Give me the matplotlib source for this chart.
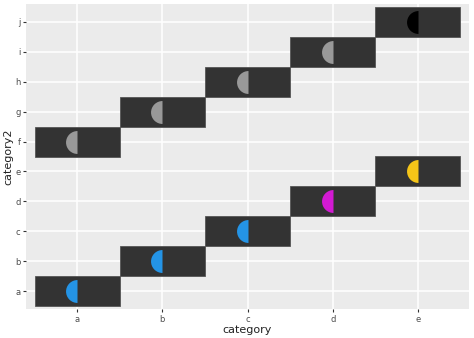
import matplotlib.pyplot as plt

xcats = ['a', 'b', 'c', 'd', 'e']
ycats = ['a', 'b', 'c', 'd', 'e', 'f', 'g', 'h', 'i', 'j']

# tile / point positions
px = ['a', 'b', 'c', 'd', 'e', 'a', 'b', 'c', 'd', 'e']
py = ['a', 'b', 'c', 'd', 'e', 'f', 'g', 'h', 'i', 'j']
pcol = ['#2494e6', '#2494e6', '#2494e6', '#d21ad2', '#f5c518',
        '#999999', '#999999', '#999999', '#999999', '#000000']

fig = plt.figure(figsize=(4.74, 3.38), dpi=100)
ax = fig.add_axes([26 / 474, 29 / 338, 443 / 474, 305 / 338])
ax.set_facecolor('#ebebeb')

xi = [xcats.index(v) for v in px]
yi = [ycats.index(v) for v in py]

for x, y, c in zip(xi, yi, pcol):
    ax.add_patch(plt.Rectangle((x - 0.5, y - 0.5), 1, 1, facecolor='#333333',
                               edgecolor='#555555', linewidth=0.6, zorder=2))
    ax.plot(x, y, marker='o', markersize=16.5, fillstyle='left',
            markerfacecolor=c, markerfacecoloralt='none',
            markeredgewidth=0, zorder=3)

ax.set_xlim(-0.6, len(xcats) - 0.4)
ax.set_ylim(-0.6, len(ycats) - 0.4)
ax.set_xticks(range(len(xcats)))
ax.set_xticklabels(xcats)
ax.set_yticks(range(len(ycats)))
ax.set_yticklabels(ycats)
ax.grid(True, color='white', linewidth=1.1, zorder=1)
ax.set_axisbelow(True)
for s in ax.spines.values():
    s.set_visible(False)
ax.tick_params(colors='#4d4d4d', labelsize=6, length=2.5, width=0.8, pad=1.5)
ax.tick_params(axis='both', color='#333333')
ax.set_xlabel('category', fontsize=8, color='#222222', labelpad=1)
ax.set_ylabel('category2', fontsize=8, color='#222222', labelpad=1)

fig.savefig('out.png', dpi=100)
